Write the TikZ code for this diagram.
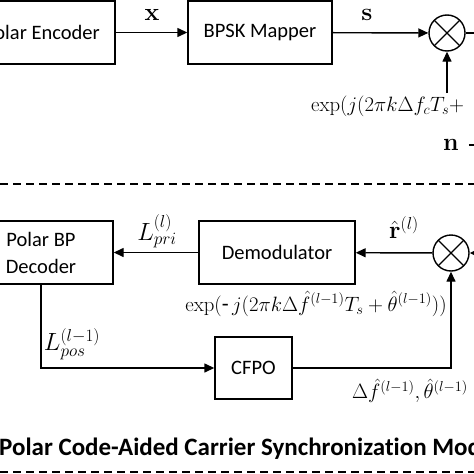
\documentclass[tikz,border=0pt]{standalone}
\usepackage[no-math]{fontspec}
\setmainfont[Ligatures=NoCommon]{Carlito}
\usetikzlibrary{arrows.meta}
\begin{document}
\begin{tikzpicture}[x=1pt,y=-1pt,
  blk/.style={draw, line width=1.4pt, inner sep=0, align=center, font=\fontsize{20.5}{27}\selectfont},
  lab/.style={inner sep=0, font=\fontsize{22.5}{26}\selectfont},
  biglab/.style={inner sep=0, font=\fontsize{25}{28}\selectfont},
  conn/.style={line width=1.4pt},
  arr/.style={conn,-{Triangle[length=10pt,width=9pt]}},
  mix/.style={circle, draw, line width=1.4pt, minimum size=36pt, inner sep=0,
    path picture={\draw[line width=1.4pt] (path picture bounding box.north west) -- (path picture bounding box.south east)
      (path picture bounding box.north east) -- (path picture bounding box.south west);}},
  sep/.style={line width=1.3pt, dash pattern=on 8pt off 5pt}
]
\useasboundingbox (0,0) rectangle (474,474);
\clip (0,0) rectangle (474,474);
% top row
\node[blk, minimum width=146pt, minimum height=63pt] (enc) at (42,32.5) {Polar Encoder};
\node[blk, minimum width=144pt, minimum height=63pt] (map) at (260,32.5) {BPSK Mapper};
\node[mix] (m1) at (447,33) {};
\coordinate (m1out) at (480,33);
\coordinate (m1in) at (447,93);
\draw[arr] (enc) -- (map);
\draw[arr] (map) -- (m1);
\draw[conn] (m1) -- (m1out);
\draw[arr] (m1in) -- (m1);
\node[biglab] (xl) at (152,15) {$\mathbf{x}$};
\node[biglab] (sl) at (367,15) {$\mathbf{s}$};
\node[lab, anchor=base west] (ex1) at (311,111) {$\exp(j(2\pi k\Delta f_c T_s +$};
\node[biglab] (nl) at (451,145) {$\mathbf{n}$};
\coordinate (nEnd) at (480,145);
\draw[conn] ([xshift=10pt]nl.east) -- (nEnd);
% separators
\draw[sep] (0,184) -- (474,184);
\draw[sep] (0,472) -- (474,472);
% bottom part
\node[blk, minimum width=144pt, minimum height=63pt] (dec) at (41,252.5) {Polar BP\\Decoder};
\node[blk, minimum width=156pt, minimum height=63pt] (dem) at (277,252.5) {Demodulator};
\node[mix] (m2) at (451,253) {};
\coordinate (m2in) at (482,253);
\node[blk, minimum width=77pt, minimum height=62pt] (cfpo) at (253.5,368) {CFPO};
\draw[arr] (m2in) -- (m2);
\draw[arr] (m2) -- (dem);
\draw[arr] (dem) -- (dec);
\coordinate (c1) at (41,368);
\coordinate (c2) at (451,368);
\draw[arr] (dec.south -| c1) -- (c1) -- (cfpo);
\draw[arr] (cfpo) -- (c2) -- (m2);
\node[biglab] (lpri) at (157,231) {$L_{pri}^{(l)}$};
\node[biglab] (rl) at (404,228) {$\hat{\mathbf{r}}^{(l)}$};
\node[lab] (ex2) at (316,304) {$\exp(\mbox{-}\,j(2\pi k\Delta\hat{f}^{(l-1)}T_s+\hat{\theta}^{(l-1)}))$};
\node[biglab] (lpos) at (72,344) {$L_{pos}^{(l-1)}$};
\node[lab] (dl) at (410,391) {$\Delta\hat{f}^{(l-1)},\hat{\theta}^{(l-1)}$};
\node[inner sep=0, anchor=base west, font=\fontsize{25}{28}\selectfont\bfseries] (title) at (-1,455) {Polar Code-Aided Carrier Synchronization Module};
\end{tikzpicture}
\end{document}
